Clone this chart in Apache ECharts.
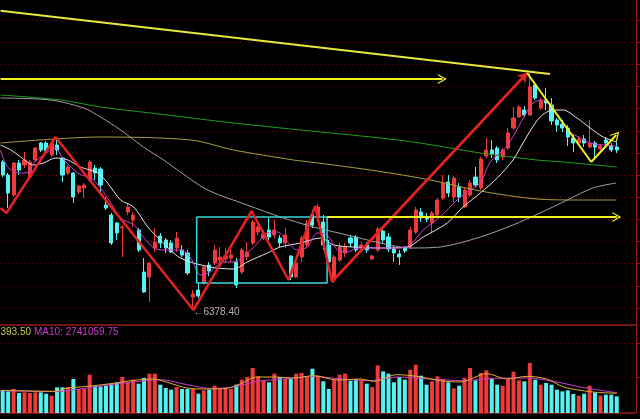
<!DOCTYPE html>
<html>
<head>
<meta charset="utf-8">
<script src="https://cdn.jsdelivr.net/npm/echarts@6/dist/echarts.min.js"></script>
<style>
html,body{margin:0;padding:0;background:#000;}
#main{width:640px;height:419px;}
</style>
</head>
<body>
<div id="main"></div>
<script>
// 日K: [开, 收, 低, 高]
var kData = [
    [7860,7730,7710,7880],[7730,7550,7400,7750],[7530,7850,7510,7860],[7850,7780,7730,7880],
    [7830,7880,7800,7960],[7710,7860,7690,7880],[7880,8000,7860,8010],[8050,7980,7960,8060],
    [8050,7970,7950,8070],[7930,8050,7910,8070],[8030,7980,7930,8100],[7900,7730,7660,7910],
    [7750,7810,7730,7830],[7750,7510,7450,7760],[7560,7620,7540,7630],[7600,7630,7500,7650],
    [7680,7860,7660,7880],[7800,7750,7680,7830],[7790,7630,7550,7810],[7430,7400,7380,7510],
    [7330,7050,7030,7350],[7250,7150,7080,7260],[7200,7210,6910,7230],[7360,7410,7330,7450],
    [7280,7330,7210,7360],[7180,6980,6960,7200],[6760,6560,6550,6900],[6710,6850,6460,6860],
    [7000,7060,6960,7200],[7120,7050,7000,7150],[7080,7000,6950,7100],[7050,6960,6950,7080],
    [7000,7100,6960,7160],[6980,6930,6910,7030],[6950,6750,6730,6980],[6510,6540,6378.4,6580],
    [6580,6520,6500,6650],[6650,6810,6630,6820],[6830,6770,6720,6860],[6850,6980,6830,7030],
    [6880,6910,6830,7010],[6890,6920,6850,7000],[6900,6930,6860,6980],[6860,6630,6600,6900],
    [6760,6980,6740,7000],[6910,6960,6880,7060],[7050,7260,7030,7280],[7160,7210,7130,7230],
    [7100,7140,7080,7180],[7180,7110,7080,7300],[7130,7180,7100,7280],[7100,7050,7010,7130],
    [7050,7130,7000,7200],[6920,6710,6680,6930],[6710,6850,6700,6880],[6910,7100,6860,7120],
    [7030,7250,7010,7280],[7330,7230,7200,7380],[7310,7410,7260,7440],[7260,7030,6980,7330],
    [7030,6860,6800,7080],[6680,6910,6650,6930],[6880,7010,6860,7050],[6950,7010,6910,7050],
    [7100,7050,7010,7130],[7110,6980,6960,7130],[7000,7030,6980,7060],[7030,6980,6950,7060],
    [6890,6920,6880,6930],[6980,7190,6960,7210],[7170,7080,7040,7200],[7110,6990,6960,7150],
    [6990,6950,6860,7020],[6940,6910,6830,6980],[7000,6970,6950,7020],[7010,7180,6990,7210],
    [7160,7380,7140,7410],[7360,7300,7260,7400],[7310,7290,7260,7350],[7250,7350,7160,7370],
    [7330,7480,7320,7500],[7500,7650,7480,7730],[7660,7550,7510,7730],[7510,7700,7460,7720],
    [7610,7510,7460,7650],[7410,7580,7400,7600],[7530,7650,7510,7680],[7710,7630,7610,7810],
    [7600,7890,7580,7910],[7920,7980,7900,8100],[7980,7940,7900,8080],[8000,7880,7850,8020],
    [7910,7980,7880,8000],[8000,8150,7980,8200],[8200,8300,8180,8410],[8310,8410,8300,8430],
    [8380,8330,8310,8420],[8330,8610,8320,8750],[8630,8500,8480,8660],[8400,8470,8380,8500],
    [8480,8450,8380,8600],[8430,8270,8230,8500],[8280,8230,8160,8300],[8240,8200,8160,8280],
    [8200,8110,8020,8230],[8100,8050,7960,8130],[8050,8090,8030,8120],[8090,8050,8010,8130],
    [8010,8050,8000,8280],[8050,8010,7900,8070],[7990,8020,7980,8040],[8080,8050,8030,8110],
    [8020,7980,7960,8050],[8010,7980,7950,8060]
];

// 成交量
var volData = [
    3060000,2925000,3240000,2700000,2790000,2700000,2790000,2790000,2610000,2340000,
    3465000,3465000,3510000,4590000,3240000,3240000,5175000,3600000,3600000,3690000,
    3960000,4140000,4860000,4140000,4500000,3960000,4725000,5310000,5310000,3825000,
    3375000,3150000,3510000,3240000,3240000,3240000,2610000,3060000,3150000,3690000,
    3240000,3240000,3240000,3825000,4500000,4860000,6075000,4950000,4410000,4140000,
    5310000,4860000,4590000,4590000,5310000,5400000,4860000,5985000,5040000,4275000,
    3240000,4500000,5175000,5310000,4365000,4590000,4500000,3960000,3510000,6435000,
    5625000,5310000,4140000,4860000,4500000,5850000,6525000,5040000,3825000,4275000,
    4950000,4590000,4140000,3330000,3690000,4725000,6075000,4410000,5400000,5760000,
    4590000,3825000,3690000,4590000,5580000,4410000,4275000,6750000,4500000,3825000,
    4050000,3825000,3150000,2925000,3060000,2565000,2340000,2610000,3690000,2790000,
    2340000,2475000,2475000,2250000
];

// 均线 [序号, 值]
var ma5Line = [[-0.4,7980],[0.9,7810],[3.3,7750],[4.8,7760],[5.7,7850],[7.5,7930],[9.7,8000],[11,7900],
    [13.8,7750],[16.7,7680],[19.9,7450],[21.7,7300],[24.1,7230],[25.9,7110],[27.8,7000],[29.6,6980],
    [32.7,6980],[34.6,6900],[36.4,6730],[38.2,6760],[40.4,6860],[42.5,6860],[44.3,6910],[46.9,7050],
    [48.7,7150],[50.6,7160],[52.4,7060],[54.2,6980],[56.1,7010],[57.9,7150],[59.7,7130],[61.6,6980],
    [63.4,6960],[65.3,7000],[69.5,7000],[73.2,7000],[75,7030],[77.4,7180],[80.5,7310],[83.6,7480],
    [86,7580],[87.9,7650],[89.7,7860],[92.5,8000],[94.3,8150],[95.8,8300],[97.6,8450],[99.3,8480],
    [100.7,8450],[102.6,8280],[104.4,8160],[106.3,8100],[108.1,8050],[110.5,8030],[113,8020]];
var ma10Line = [[-0.4,8030],[1.5,7980],[3.3,7910],[5.7,7830],[7.5,7850],[9.7,7900],[12,7880],[14.3,7810],
    [17.5,7750],[19.3,7650],[21.7,7480],[24.1,7410],[26.7,7210],[29,7080],[32.7,6900],[38.2,6810],
    [42.5,6790],[45,6860],[48.7,6950],[51.1,7010],[54.8,7050],[58.5,7100],[60.9,7030],[64.5,7010],
    [69.5,7000],[74.4,7010],[77.4,7110],[81.8,7250],[84.7,7410],[87.9,7550],[91,7700],[93.9,7880],
    [96.5,8120],[98.9,8310],[101.3,8380],[103.1,8380],[105.7,8300],[108.1,8200],[110.5,8110],[113,8060]];
var ma30Line = [[-0.4,8500],[8.8,8480],[14.9,8400],[18,8310],[21.7,8180],[25.9,8010],[29.6,7880],
    [32.7,7760],[37.7,7580],[45,7430],[51.1,7310],[57.2,7210],[63.4,7130],[69.5,7050],[75,7000],
    [80.5,7010],[87.9,7110],[93.9,7230],[98.9,7350],[103.9,7480],[108.6,7600],[112.9,7650]];
var ma60Line = [[-0.4,8050],[18,8110],[34.6,8080],[42.5,7980],[53.5,7880],[56.6,7860],[68.9,7770],
    [78.7,7680],[87.9,7570],[98.3,7490],[106.3,7480],[112.9,7480]];
var ma120Line = [[-0.4,8530],[10.7,8480],[18,8410],[27.2,8350],[42.5,8250],[58.5,8160],[69.5,8100],
    [76.8,8050],[87.9,7950],[98.3,7880],[103.1,7860],[113,7810]];

// 量均线
var volMa5 = [[-0.4,3060000],[5.8,2970000],[9.4,2925000],[11.9,3375000],[14.3,3510000],[16.8,3690000],
    [19.9,3960000],[24.1,4410000],[27.8,4590000],[30.3,4140000],[33.9,3375000],[37.6,3240000],
    [41.3,3330000],[43.8,3960000],[46.8,4860000],[49.9,4860000],[53.6,4725000],[57.2,5040000],
    [61.5,4455000],[65.8,4590000],[68.3,4275000],[72.5,5175000],[76.2,4950000],[80.5,4365000],
    [84.2,4185000],[89.1,5310000],[92.8,4590000],[96.5,4950000],[100.1,4590000],[103.2,3510000],
    [106.3,3060000],[109.3,2790000],[113,2662393.5]];
var volMa10 = [[-0.4,3015000],[9.4,2880000],[14.3,3240000],[19.9,3825000],[25.4,4275000],[29,4500000],
    [33.9,3825000],[38.2,3330000],[42.5,3510000],[46.8,4275000],[51.7,4590000],[57.8,4950000],
    [61,4680000],[67.6,4365000],[72.5,4860000],[78.7,4590000],[84.8,4365000],[90.3,4680000],
    [96.5,4725000],[101.4,4275000],[106.3,3510000],[113,2741059.75]];

// 画线 [序号, 价]
var zigzagRed = [[-0.4,7400],[0.7,7350],[9.7,8110],[35.1,6380],[45.8,7370],[52.6,6680],[57.5,7420],[60.6,6663],[96.5,8750]];
var trendTop = [[-0.4,9373],[100.7,8740]];
var arrowHigh = [[-0.4,8690],[80.9,8690]];
var arrowBox = [[59.7,7310],[113,7310]];
var zigzagYellow = [[96.5,8750],[108.3,7860],[112.9,8130]];
var boxCorners = [[35.7,7310],[59.7,6650]];

var UP = '#f03a3a', DOWN = '#56f2f2', FRAME = '#9a1a1a', DOT = '#6a0a0a';
var EMPTY_SLOTS = 3;
var nCat = kData.length + EMPTY_SLOTS;
var cats = [];
for (var i = 0; i < nCat; i++) { cats.push('' + i); }

var volItems = volData.map(function (v, i) {
    return { value: v, itemStyle: { color: kData[i][1] >= kData[i][0] ? UP : DOWN } };
});

var chevron = 'path://M0,10 L6,0 L12,10 L10.4,10 L6,2.8 L1.6,10 Z';

function maSeries(data, color, xi, yi) {
    return {
        type: 'line', xAxisIndex: xi, yAxisIndex: yi, data: data, symbol: 'none',
        smooth: 0.3, silent: true, lineStyle: { color: color, width: 1 }
    };
}
function seg(a, b, endSym) {
    return [{ coord: a, symbol: 'none' }, { coord: b, symbol: endSym }];
}
function frameY(grid, min, max) {
    return { type: 'value', gridIndex: grid, min: min, max: max, position: 'right',
        axisLine: { show: true, onZero: false, lineStyle: { color: FRAME } },
        axisTick: { show: false }, axisLabel: { show: false }, splitLine: { show: false } };
}
function dotY(grid, max) {
    return { type: 'value', gridIndex: grid, min: 0, max: max, interval: 1, position: 'right',
        axisLine: { show: false, onZero: false }, axisTick: { show: true, length: 4, lineStyle: { color: FRAME } },
        axisLabel: { show: false },
        splitLine: { show: true, lineStyle: { color: DOT, type: [1, 3], width: 1 } } };
}

var L = -0.72, R = 640 - (L + nCat * 5.44);
var chart = echarts.init(document.getElementById('main'));
chart.setOption({
    backgroundColor: '#000',
    animation: false,
    grid: [
        { left: L, right: R, top: 0, height: 325 },
        { left: L, right: R, top: 326, height: 87 },
        { left: L, right: R, top: 20, height: 288 },
        { left: L, right: R, top: 343, height: 34 }
    ],
    xAxis: [
        { type: 'category', gridIndex: 0, data: cats, axisLine: { onZero: false, lineStyle: { color: FRAME, width: 1.5 } }, axisTick: { show: false }, axisLabel: { show: false } },
        { type: 'category', gridIndex: 1, data: cats, axisLine: { onZero: false, lineStyle: { color: FRAME, width: 1.5 } }, axisTick: { show: false }, axisLabel: { show: false } },
        { type: 'value', gridIndex: 0, min: -0.5, max: nCat - 0.5, show: false },
        { type: 'value', gridIndex: 1, min: -0.5, max: nCat - 0.5, show: false },
        { type: 'value', gridIndex: 2, min: 0, max: 1, show: false },
        { type: 'value', gridIndex: 3, min: 0, max: 1, show: false }
    ],
    yAxis: [
        frameY(0, 6230, 9480),
        frameY(1, 0, 11745000),
        dotY(2, 13),
        dotY(3, 1)
    ],
    graphic: [
        { type: 'text', x: 31, y: 332, silent: true,
          style: { text: 'MA5: ' + volMa5[volMa5.length - 1][1].toFixed(2), fill: '#c8c850', font: '10px "Liberation Sans"', textAlign: 'right', textVerticalAlign: 'middle' } },
        { type: 'text', x: 34, y: 332, silent: true,
          style: { text: 'MA10: ' + volMa10[volMa10.length - 1][1].toFixed(2), fill: '#cc3ccc', font: '10px "Liberation Sans"', textAlign: 'left', textVerticalAlign: 'middle' } }
    ],
    series: [
        {
            type: 'candlestick', xAxisIndex: 0, yAxisIndex: 0, data: kData, barWidth: 3.6, silent: true,
            itemStyle: { color: UP, color0: DOWN, borderColor: UP, borderColor0: DOWN, borderWidth: 1 },
            markPoint: {
                symbol: 'circle', symbolSize: 1, itemStyle: { color: 'rgba(0,0,0,0)' },
                label: {
                    show: true, position: 'right', distance: 0, offset: [0, 2], color: '#b4b4b4',
                    fontSize: 10, fontFamily: 'Liberation Sans, DejaVu Sans',
                    formatter: function (p) { return '\u2190' + p.value.toFixed(2); }
                },
                data: [{ type: 'min', valueDim: 'lowest' }]
            }
        },
        { type: 'bar', xAxisIndex: 1, yAxisIndex: 1, data: volItems, barWidth: 4, silent: true },
        maSeries(ma120Line, '#1f9f1f', 2, 0),
        maSeries(ma60Line, '#a8a040', 2, 0),
        maSeries(ma30Line, '#a0a0a0', 2, 0),
        maSeries(ma10Line, '#e6e6e6', 2, 0),
        maSeries(ma5Line, '#d03cd0', 2, 0),
        maSeries(volMa10, '#cc3ccc', 3, 1),
        maSeries(volMa5, '#e0b030', 3, 1),
        {
            type: 'line', xAxisIndex: 2, yAxisIndex: 0, symbol: 'none', silent: true,
            lineStyle: { color: '#3ad8d8', width: 1.5 },
            data: [
                [boxCorners[0][0], boxCorners[0][1]], [boxCorners[1][0], boxCorners[0][1]],
                [boxCorners[1][0], boxCorners[1][1]], [boxCorners[0][0], boxCorners[1][1]],
                [boxCorners[0][0], boxCorners[0][1]]
            ]
        },
        {
            type: 'line', xAxisIndex: 2, yAxisIndex: 0, symbol: 'none', silent: true,
            data: zigzagRed, lineStyle: { color: '#e42222', width: 2.5 },
            markLine: {
                silent: true, symbolSize: 9, label: { show: false },
                lineStyle: { color: '#e42222', width: 2.5, type: 'solid' },
                data: [seg(zigzagRed[zigzagRed.length - 2], zigzagRed[zigzagRed.length - 1], 'arrow')]
            }
        },
        {
            type: 'line', xAxisIndex: 2, yAxisIndex: 0, symbol: 'none', silent: true,
            data: trendTop, lineStyle: { color: '#e8e83c', width: 2 },
            markLine: {
                silent: true, symbolSize: [10, 9], label: { show: false },
                lineStyle: { color: '#f2f21e', width: 2, type: 'solid' },
                data: [
                    seg(arrowHigh[0], arrowHigh[1], chevron),
                    seg(arrowBox[0], arrowBox[1], chevron),
                    seg(zigzagYellow[0], zigzagYellow[1], 'none'),
                    seg(zigzagYellow[1], zigzagYellow[2], chevron)
                ]
            }
        }
    ]
});
</script>
</body>
</html>
